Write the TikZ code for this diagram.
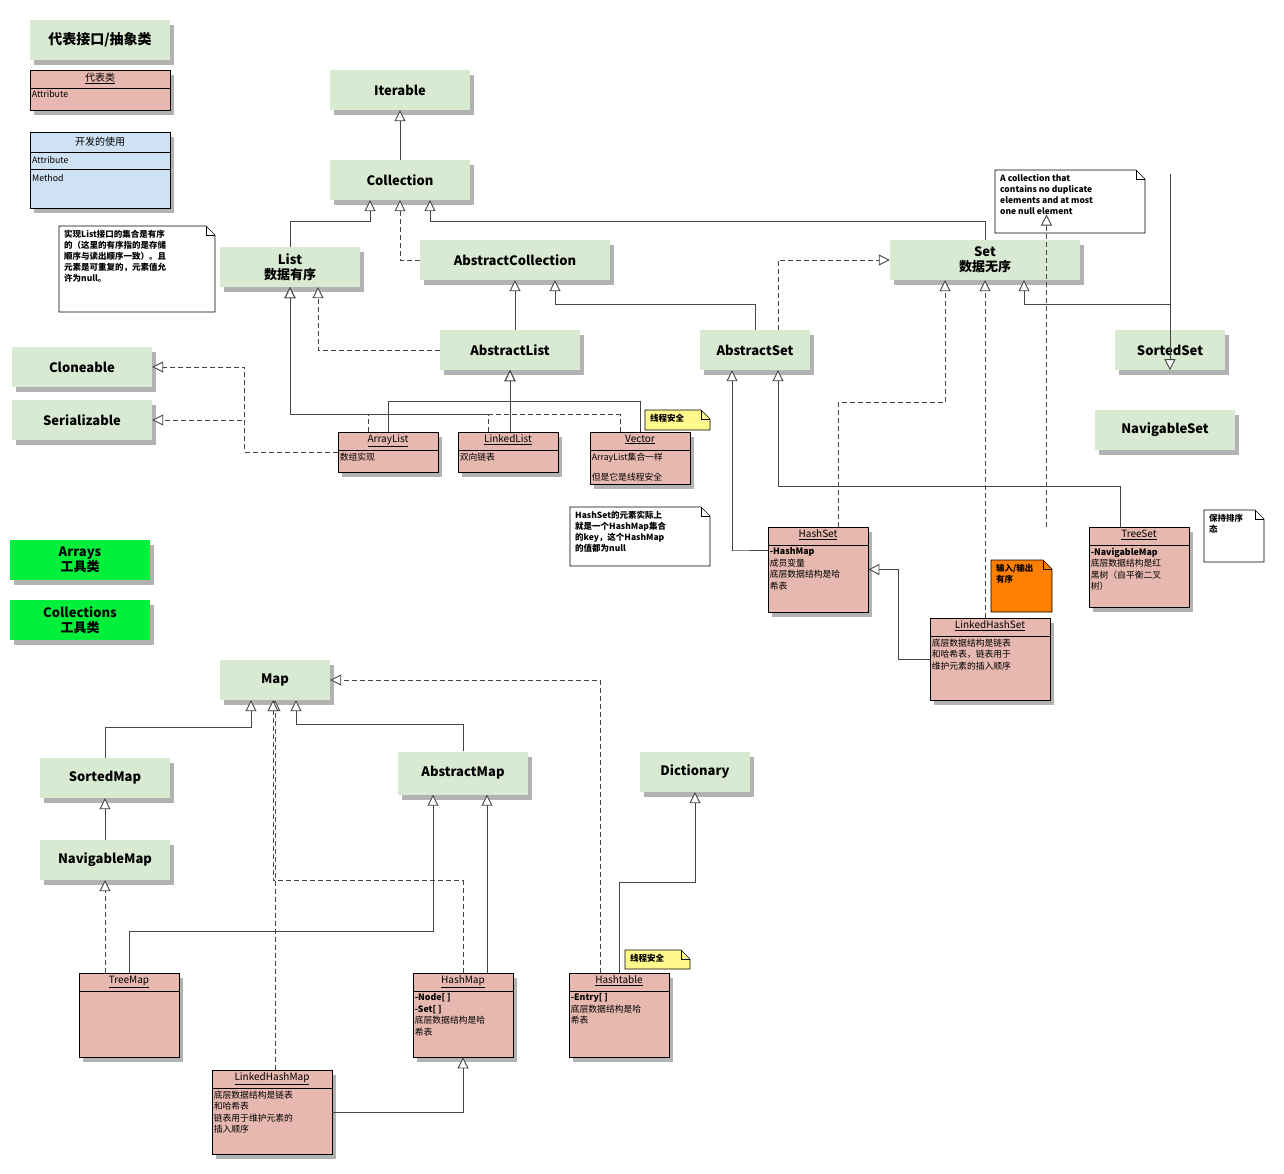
\documentclass[tikz,border=0pt]{standalone}
\usepackage{fontspec}
\setmainfont{Noto Sans CJK SC}
\usetikzlibrary{arrows.meta,shadows}
\definecolor{ifc}{HTML}{D9EAD3}
\definecolor{clsc}{HTML}{E6B8AF}
\definecolor{devc}{HTML}{CFE2F3}
\definecolor{toolc}{HTML}{00F03C}
\definecolor{lc}{HTML}{444444}
\tikzset{
 shd/.style={drop shadow={shadow xshift=4pt,shadow yshift=-5pt,fill=black!30,opacity=1}},
 iface/.style={shd,fill=ifc,draw=none,font=\bfseries\fontsize{13}{15}\selectfont,align=center,inner sep=1pt},
 tool/.style={iface,fill=toolc},
 cls/.style={shd,fill=clsc,draw=black,line width=0.8pt,inner sep=0pt},
 inh/.style={draw=lc,line width=0.9pt,-{Triangle[open,fill=white,length=11pt,width=11pt]}},
 rea/.style={inh,dashed,dash pattern=on 5pt off 3pt},
 notet/.style={anchor=north west,align=left,inner sep=0pt,font=\bfseries\fontsize{8.5}{11}\selectfont},
}
\newcommand\umlcls[7]{%
 \node[cls,minimum width=#4pt,minimum height=#5pt] (#1) at (#2,#3) {};
 \draw[line width=0.8pt] ([yshift=-19pt]#1.north west) -- ([yshift=-19pt]#1.north east);
 \node[anchor=north,inner sep=0pt,font=\fontsize{10}{12}\selectfont] at ([yshift=-3pt]#1.north) {\underline{#6}};
 \node[anchor=north west,align=left,inner sep=2pt,font=\fontsize{8.8}{11.5}\selectfont] at ([yshift=-19pt]#1.north west) {#7};}
\newcommand\notebox[7]{%
 \draw[fill=#6,line width=0.6pt] (#2,#3) -- (#4-9,#3) -- (#4,#3+9) -- (#4,#5) -- (#2,#5) -- cycle;
 \draw[line width=0.6pt] (#4-9,#3) -- (#4-9,#3+9) -- (#4,#3+9);
 \node[notet] (#1) at (#2+5,#3+4) {#7};}
\begin{document}
\begin{tikzpicture}[x=1pt,y=-1pt]
\useasboundingbox[fill=white] (0,0) rectangle (1284,1174);
% legend
\node[iface,minimum width=140pt,minimum height=40pt,font=\bfseries\fontsize{14}{16}\selectfont] (leg1) at (100,40) {代表接口/抽象类};
\umlcls{leg2}{100}{90}{140}{40}{代表类}{Attribute}
\node[shd,fill=devc,draw=black,line width=0.8pt,minimum width=140pt,minimum height=76pt] (leg3) at (100,170) {};
\draw[line width=0.8pt] (30,152) -- (170,152) (30,169) -- (170,169);
\node[font=\fontsize{10}{12}\selectfont] at (100,142) {开发的使用};
\node[anchor=west,inner sep=2pt,font=\fontsize{8.8}{10}\selectfont] at (30,160.5) {Attribute};
\node[anchor=west,inner sep=2pt,font=\fontsize{8.8}{10}\selectfont] at (30,178) {Method};
% interfaces
\node[iface,minimum width=140pt,minimum height=40pt] (iter) at (400,90) {Iterable};
\node[iface,minimum width=140pt,minimum height=40pt] (coll) at (400,180) {Collection};
\node[iface,minimum width=140pt,minimum height=40pt] (list) at (290,267) {List\\数据有序};
\node[iface,minimum width=190pt,minimum height=40pt] (acoll) at (515,260) {AbstractCollection};
\node[iface,minimum width=140pt,minimum height=40pt] (clone) at (82,367) {Cloneable};
\node[iface,minimum width=140pt,minimum height=40pt] (ser) at (82,420) {Serializable};
\node[iface,minimum width=140pt,minimum height=40pt] (alist) at (510,350) {AbstractList};
\node[iface,minimum width=110pt,minimum height=40pt] (aset) at (755,350) {AbstractSet};
\node[iface,minimum width=190pt,minimum height=40pt] (set) at (985,260) {Set\\数据无序};
\node[iface,minimum width=110pt,minimum height=40pt] (ssort) at (1170,350) {SortedSet};
\node[iface,minimum width=140pt,minimum height=40pt] (nset) at (1165,430) {NavigableSet};
\node[tool,minimum width=140pt,minimum height=40pt] (arrays) at (80,560) {Arrays\\工具类};
\node[tool,minimum width=140pt,minimum height=40pt] (colls) at (80,620) {Collections\\工具类};
\node[iface,minimum width=110pt,minimum height=40pt] (map) at (275,680) {Map};
\node[iface,minimum width=130pt,minimum height=40pt] (smap) at (105,778) {SortedMap};
\node[iface,minimum width=130pt,minimum height=40pt] (nmap) at (105,860) {NavigableMap};
\node[iface,minimum width=130pt,minimum height=43pt] (amap) at (463,773) {AbstractMap};
\node[iface,minimum width=110pt,minimum height=40pt] (dict) at (695,772) {Dictionary};
% classes
\umlcls{al}{388}{452}{100}{40}{ArrayList}{数组实现}
\umlcls{ll}{508}{452}{100}{40}{LinkedList}{双向链表}
\umlcls{vec}{640}{458}{100}{52}{Vector}{ArrayList集合一样\\[1pt]\\[-4pt]但是它是线程安全}
\umlcls{hs}{818}{569.5}{100}{85}{HashSet}{\textbf{-HashMap}\\成员变量\\底层数据结构是哈\\希表}
\umlcls{lhs}{990}{659}{120}{82}{LinkedHashSet}{底层数据结构是链表\\和哈希表，链表用于\\维护元素的插入顺序}
\umlcls{ts}{1139}{567}{100}{80}{TreeSet}{\textbf{-NavigableMap}\\底层数据结构是红\\黑树（自平衡二叉\\树）}
\umlcls{tm}{129}{1015}{100}{84}{TreeMap}{}
\umlcls{hm}{463}{1015}{100}{84}{HashMap}{\textbf{-Node[ ]}\\\textbf{-Set[ ]}\\底层数据结构是哈\\希表}
\umlcls{ht}{619}{1015}{100}{84}{Hashtable}{\textbf{-Entry[ ]}\\底层数据结构是哈\\希表}
\umlcls{lhm}{272}{1112}{120}{84}{LinkedHashMap}{底层数据结构是链表\\和哈希表\\链表用于维护元素的\\插入顺序}
% notes
\notebox{nlist}{59}{226}{215}{312}{white}{实现List接口的集合是有序\\的（这里的有序指的是存储\\顺序与读出顺序一致）。且\\元素是可重复的，元素值允\\许为null。}
\notebox{nset}{995}{170}{1145}{233}{white}{A collection that\\contains no duplicate\\elements and at most\\one null element}
\notebox{nsafe1}{645}{410}{710}{430}{yellow!45}{线程安全}
\notebox{nhs}{570}{507}{710}{566}{white}{HashSet的元素实际上\\就是一个HashMap集合\\的key，这个HashMap\\的值都为null}
\notebox{nio}{991}{560}{1052}{612}{orange}{输入/输出\\有序}
\notebox{nsort}{1204}{510}{1264}{562}{white}{保持排序\\态}
\notebox{nsafe2}{625}{950}{690}{969}{yellow!45}{线程安全}
% connectors: collection side
\draw[inh] (coll.north) -- (iter.south);
\draw[inh] (list.north) -- ++(0,-25) -| ([xshift=-30pt]coll.south);
\draw[rea] (acoll.west) -| (coll.south);
\draw[inh] (set.north) -- ++(0,-18) -| ([xshift=30pt]coll.south);
\draw[inh] (acoll.south |- alist.north) -- (acoll.south);
\draw[inh] (aset.north) -- ++(0,-25) -| ([xshift=40pt]acoll.south);
\draw[rea] (alist.west) -| ([xshift=28pt]list.south);
\draw[rea] ([xshift=23pt]aset.north) |- (set.west);
\draw[inh] (ssort.north) -- ++(0,-25) -| ([xshift=39pt]set.south);
\draw[inh] (ssort.south |- nset.north) -- (ssort.south);
\draw[inh] (al.north) -- ++(0,-30) -| (alist.south);
\draw[inh] (alist.south |- ll.north) -- (alist.south);
\draw[inh] (vec.north) -- ++(0,-30) -| (alist.south);
\draw[rea] ([xshift=-20pt]al.north) -- ++(0,-17) -| (list.south);
\draw[rea] ([xshift=-20pt]ll.north) -- ++(0,-17) -| (list.south);
\draw[rea] ([xshift=-20pt]vec.north) -- ++(0,-17) -| (list.south);
\draw[rea] (al.west) -- ++(-93,0) |- (clone.east);
\draw[rea] (al.west) -- ++(-93,0) |- (ser.east);
\draw[inh] ([yshift=19.5pt]hs.west) -- ++(-36,0) -| ([xshift=-23pt]aset.south);
\draw[inh] ([xshift=-19pt]ts.north) -- ++(0,-40) -| ([xshift=23pt]aset.south);
\draw[rea] ([xshift=20pt]hs.north) -- ++(0,-124) -| ([xshift=-40pt]set.south);
\draw[rea] (set.south |- lhs.north) -- (set.south);
\draw[inh] (lhs.west) -- ++(-31,0) |- (hs.east);
\draw[rea] (nset.south |- ts.north) -- (nset.south);
% map side
\draw[inh] (smap.north) -- ++(0,-30) -| ([xshift=-24pt]map.south);
\draw[inh] (amap.north) -- ++(0,-27) -| ([xshift=21pt]map.south);
\draw[rea] (map.south |- lhm.north) -- (map.south);
\draw[rea] (hm.north) -- ++(0,-92) -| ([xshift=-2pt]map.south);
\draw[rea] ([xshift=-19pt]ht.north) |- (map.east);
\draw[inh] (nmap.north) -- (smap.south);
\draw[rea] (nmap.south |- tm.north) -- (nmap.south);
\draw[inh] (tm.north) -- ++(0,-41) -| ([xshift=-30pt]amap.south);
\draw[inh] ([xshift=24pt]hm.north) -- ([xshift=24pt]amap.south);
\draw[inh] (ht.north) -- ++(0,-90) -| (dict.south);
\draw[inh] (lhm.east) -| (hm.south);
\end{tikzpicture}
\end{document}
